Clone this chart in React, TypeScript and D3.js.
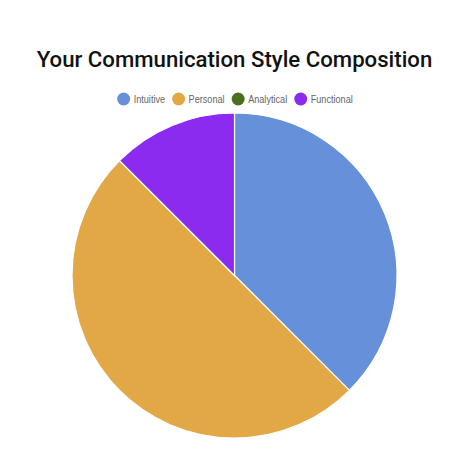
import React from "react";
import * as d3 from "d3";

const title = "Your Communication Style Composition";
const categories = ["Intuitive", "Personal", "Analytical", "Functional"];
const values = [3, 4, 0, 1];
const colors = ["#6690d9", "#e3a846", "#4b6f1f", "#8a2bef"];

const W = 474;
const H = 474;

function measure(text: string, font: string): number {
  const c = document.createElement("canvas");
  const ctx = c.getContext("2d")!;
  ctx.font = font;
  return ctx.measureText(text).width;
}

export default function App() {
  const cx = 234.5;
  const cy = 275.5;
  const r = 162.5;
  const pie = d3.pie<number>().sort(null).value((d) => d)(values);
  const arc = d3.arc<d3.PieArcDatum<number>>().innerRadius(0).outerRadius(r);

  const legendFamily = "'Liberation Sans', Arial, sans-serif";
  const legendSize = 11;
  const squeeze = 0.83;
  const legendFont = `${legendSize}px 'Liberation Sans'`;
  const circleR = 6.5;
  const textGap = 10;
  const itemGap = 7 + circleR;
  const widths = categories.map((c) => measure(c, legendFont) * squeeze);
  const itemWidths = widths.map((w) => textGap + w);
  const total = itemWidths.reduce((a, b) => a + b, 0) + itemGap * (categories.length - 1) + circleR;
  let x = W / 2 - 2 - total / 2 + circleR;
  const items = categories.map((c, i) => {
    const item = { c, x, color: colors[i] };
    x += itemWidths[i] + itemGap;
    return item;
  });

  return (
    <svg width={W} height={H} style={{ display: "block", margin: "-8px" }}>
      <rect width={W} height={H} fill="#fff" />
      <text
        x={234.5}
        y={67}
        textAnchor="middle"
        fontFamily="Roboto"
        fontWeight={500}
        fontSize={22.2}
        fill="#111"
      >
        {title}
      </text>
      {items.map((it) => (
        <g key={it.c}>
          <circle cx={it.x} cy={99} r={circleR} fill={it.color} />
          <text
            transform={`translate(${it.x + textGap},102.8) scale(${squeeze},1)`}
            fontFamily={legendFamily}
            fontSize={legendSize}
            fill="#666"
          >
            {it.c}
          </text>
        </g>
      ))}
      <g transform={`translate(${cx},${cy})`}>
        {pie.map((p, i) => (
          <path key={categories[i]} d={arc(p) || ""} fill={colors[i]} stroke="#fff" strokeWidth={1.2} />
        ))}
      </g>
    </svg>
  );
}
